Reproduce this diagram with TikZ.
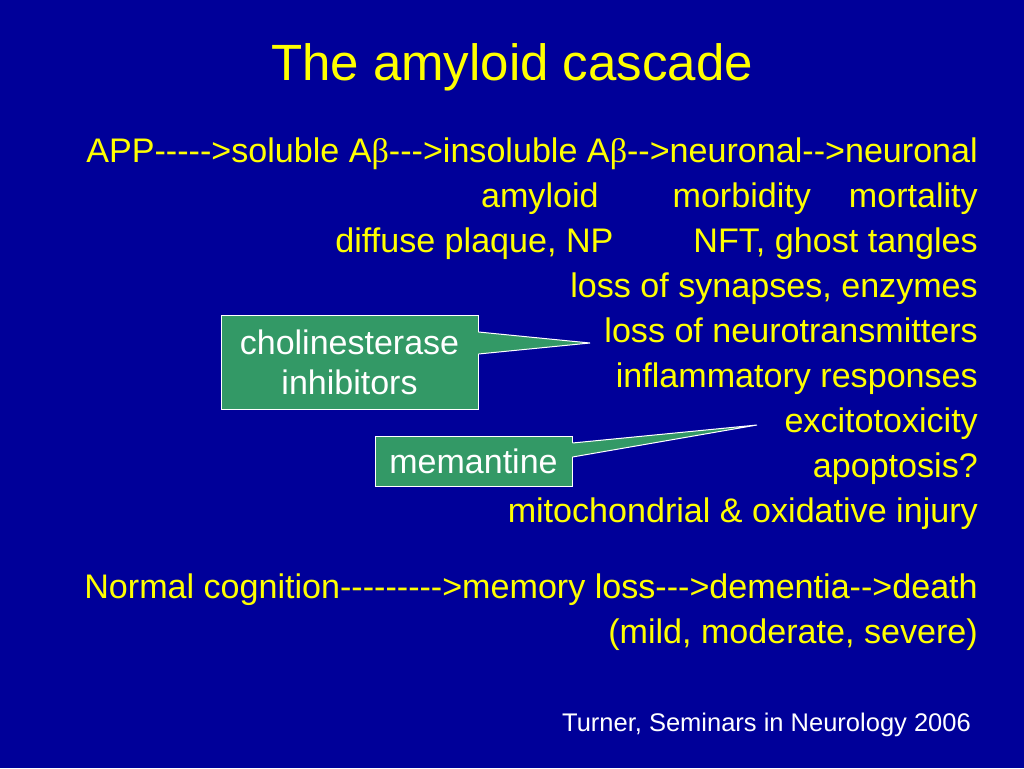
\documentclass[tikz,border=0pt]{standalone}
\usepackage{fontspec}
\setmainfont{Liberation Sans}[Ligatures=TeXOff]
\newfontfamily\grk{Liberation Serif}
\usetikzlibrary{calc}
\definecolor{slidebg}{RGB}{0,0,153}
\definecolor{slideyel}{RGB}{255,255,0}
\definecolor{boxgreen}{RGB}{51,153,102}
\newcommand{\Ab}{A{\grk β}}
\tikzset{
  yel/.style={text=slideyel, inner sep=0pt, font=\fontsize{34.1}{40}\selectfont},
  callout/.style={fill=boxgreen, draw=white, line width=1pt, text=white,
    align=center, font=\fontsize{34}{40}\selectfont, inner sep=0pt}
}
\begin{document}
\begin{tikzpicture}[x=1pt, y=-1pt]
   \fill[slidebg] (0,0) rectangle (1024,768);
   \node[yel, font=\fontsize{51}{56}\selectfont, anchor=base] (title) at (512,80) {The amyloid cascade};
   % cascade of pathology, right aligned
   \foreach \n/\t in
     { 1/{APP----->soluble \Ab--->insoluble \Ab-->neuronal-->neuronal},
       2/{amyloid\hspace{74pt}morbidity\hspace{38pt}mortality},
       3/{diffuse plaque, NP\hspace{80pt}NFT, ghost tangles},
       4/{loss of synapses, enzymes},
       5/{loss of neurotransmitters},
       6/{inflammatory responses},
       7/{excitotoxicity},
       8/{apoptosis?},
       9/{mitochondrial \& oxidative injury}
     }
     \node[yel, anchor=base east] (row\n) at (978,{117+45*\n}) {\t};
   % clinical course
   \node[yel, anchor=base east] (clin) at (978,598) {Normal cognition--------->memory loss--->dementia-->death};
   \node[yel, anchor=base east] (stage) at (978,643) {(mild, moderate, severe)};
   \node[text=white, inner sep=0pt, font=\fontsize{25.5}{30}\selectfont, anchor=base east] (ref) at (971,731) {Turner, Seminars in Neurology 2006};
   % drug callouts
   \node[callout, minimum width=257pt, minimum height=94pt] (chol) at (349.5,362) {cholinesterase\\inhibitors};
   \node[callout, minimum width=197pt, minimum height=50pt] (mem) at (473.5,461) {memantine};
   \coordinate (tipA) at (590,343);
   \coordinate (tipB) at (757,425);
   \fill[boxgreen] ($(chol.east)+(-1,-30)$) -- (tipA) -- ($(chol.east)+(-1,-8)$) -- cycle;
   \draw[white, line width=1pt] ($(chol.east)+(0,-30)$) -- (tipA) -- ($(chol.east)+(0,-8)$);
   \fill[boxgreen] ($(mem.east)+(-1,-18)$) -- (tipB) -- ($(mem.east)+(-1,-4)$) -- cycle;
   \draw[white, line width=1pt] ($(mem.east)+(0,-18)$) -- (tipB) -- ($(mem.east)+(0,-4)$);
\end{tikzpicture}
\end{document}
